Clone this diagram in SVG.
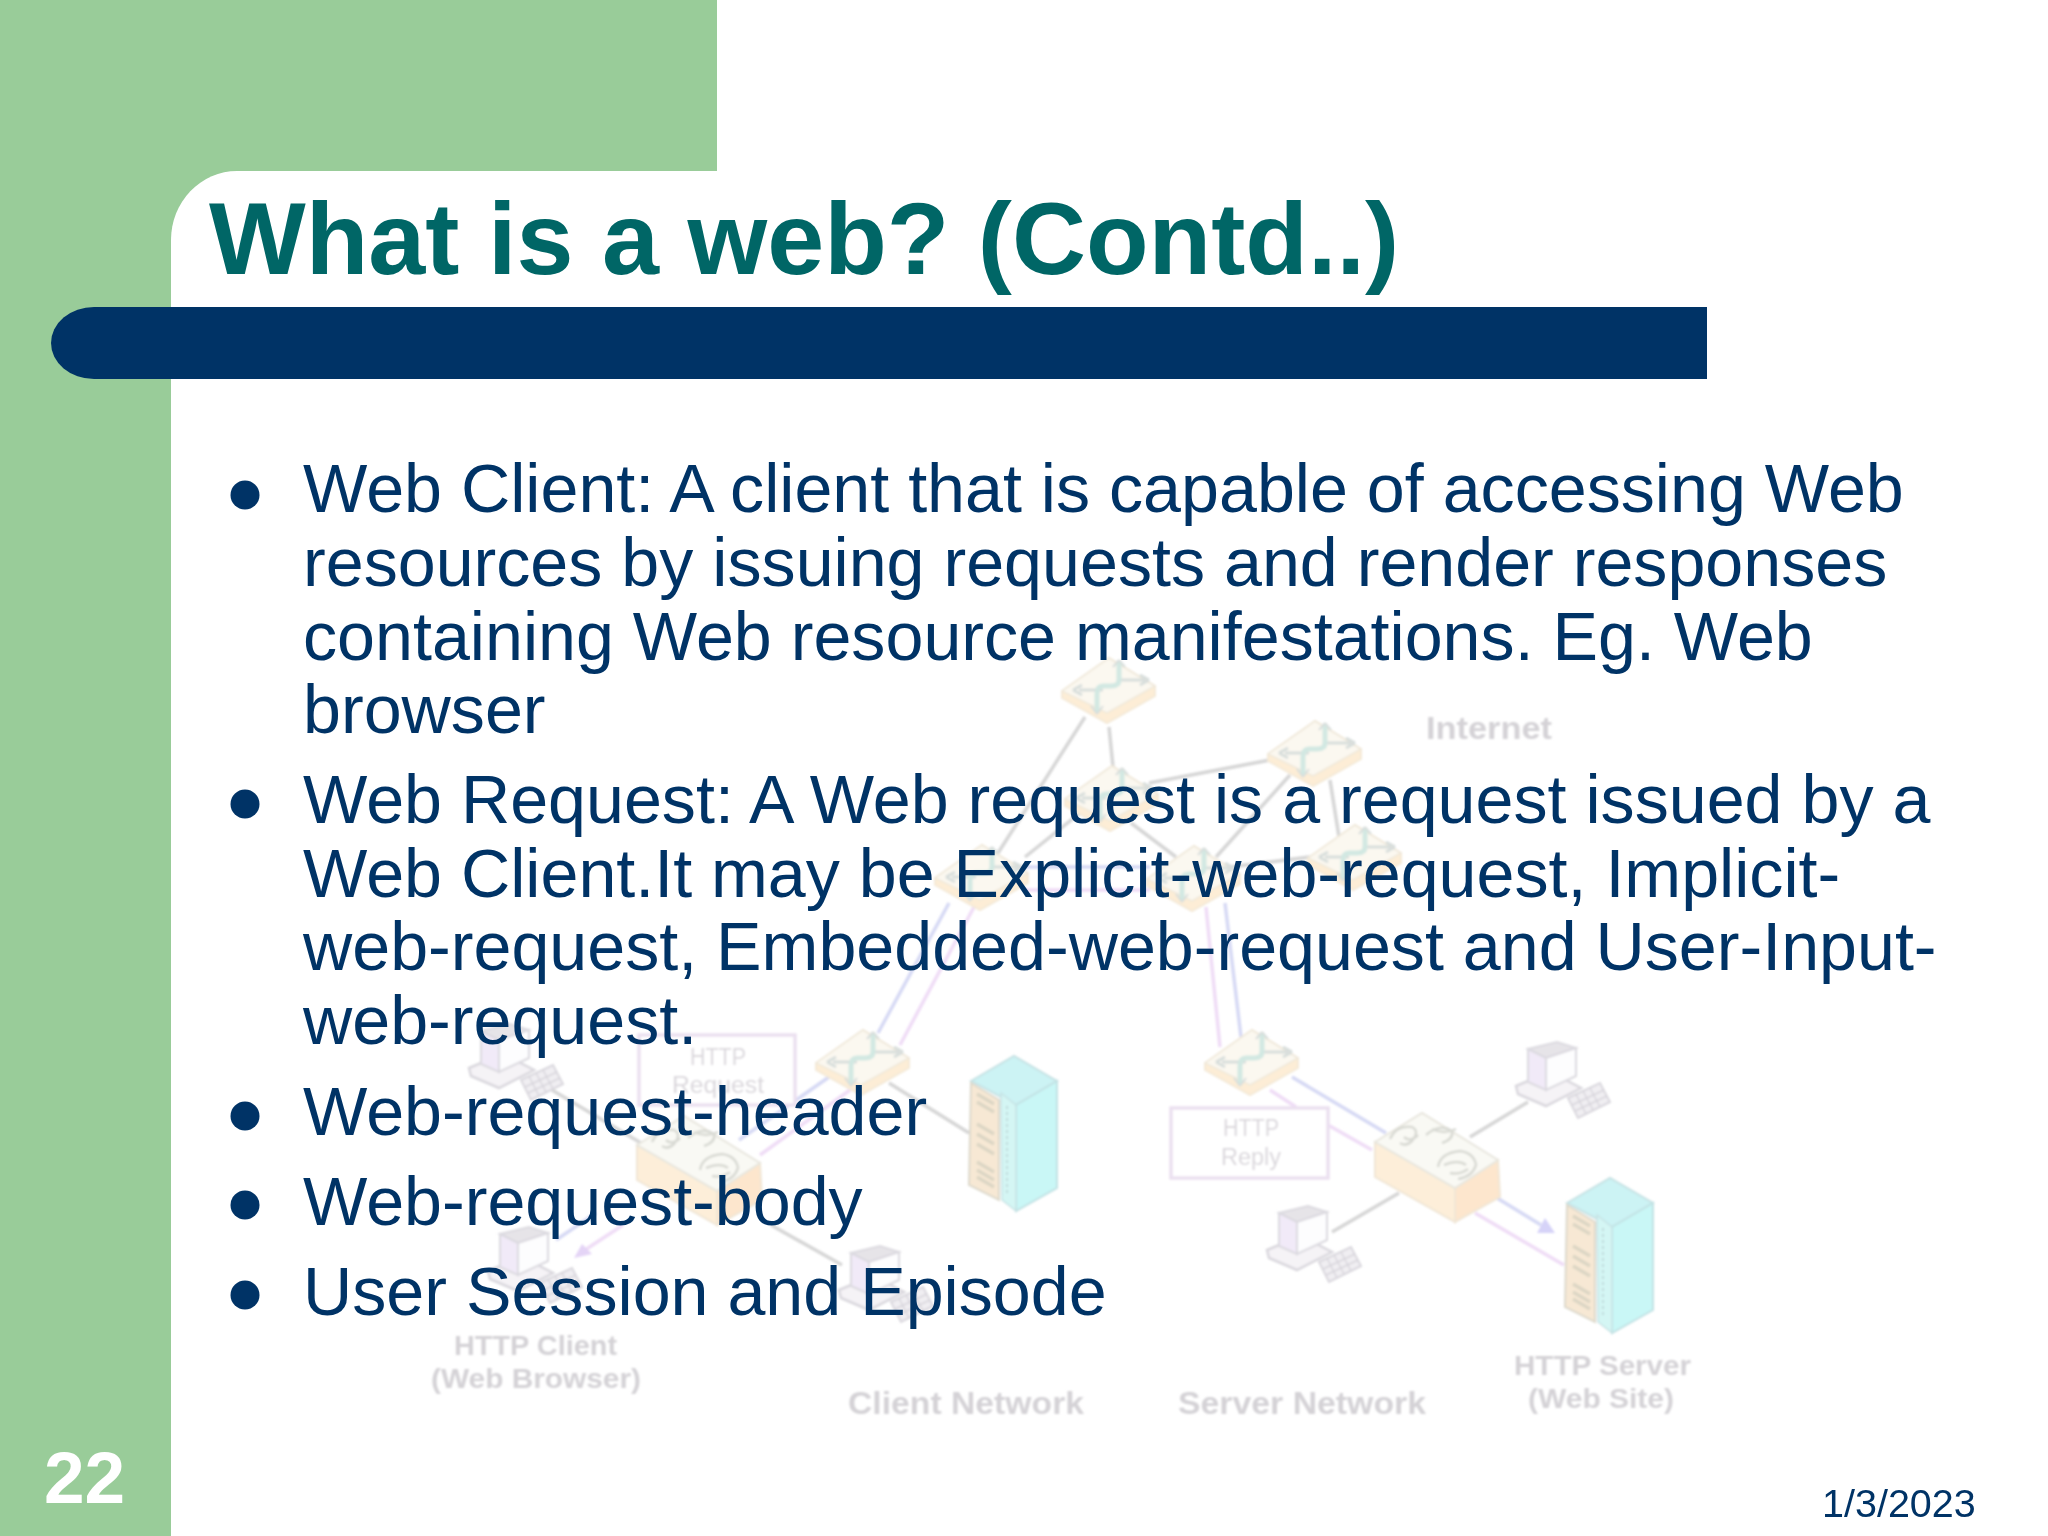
<svg xmlns="http://www.w3.org/2000/svg" xmlns:xlink="http://www.w3.org/1999/xlink" width="2048" height="1536" viewBox="0 0 2048 1536">
<style>
text{font-family:"Liberation Sans",Arial,sans-serif}
.body{font-size:68.200px;fill:#003366}
.lbl{font-weight:bold;fill:#d4d2d6}
.sm{font-size:23px;fill:#dad7dc}
.g{stroke:#d6d6d6;stroke-width:3.500;fill:none}
.b{stroke:#d6d9f4;stroke-width:3.500;fill:none}
.p{stroke:#efdcf6;stroke-width:3.500;fill:none}
.box{fill:#fff;stroke:#ebe0f0;stroke-width:3.500}
</style>
<defs>
<filter id="soft" x="-5%" y="-5%" width="110%" height="110%"><feGaussianBlur stdDeviation="0.800"/></filter>
<g id="router">
<path d="M-47,1 L0,-32 L46,-4 L46,6 L-2,33 L-47,8Z" fill="#fdedd6" stroke="#f4ead8" stroke-width="2"/>
<path d="M-47,1 L0,-32 L46,-4 L-2,23Z" fill="#fbf8f0" stroke="#efe8da" stroke-width="1.500"/>
<path d="M-6,0 H-30 M-36,0 l9,-5 M-36,0 l9,5 M12,-10 H36 M40,-10 l-9,-5 M40,-10 l-9,5" fill="none" stroke="#d8dedc" stroke-width="3"/>
<path d="M10,-28 V-10 Q10,-4 2,-4 H-6 Q-12,-4 -12,4 V22" fill="none" stroke="#d2e8e2" stroke-width="5"/>
<path d="M-12,24 l-6,-8 M-12,24 l6,-8 M10,-30 l-6,7 M10,-30 l6,7" fill="none" stroke="#d8dedc" stroke-width="2"/>
</g>
<g id="switch">
<path d="M-49,-45 L31,1 V35 L-49,-10Z" fill="#fdeed9" stroke="#f0e6d6" stroke-width="2"/>
<path d="M31,1 L74,-27 L76,10 L31,35Z" fill="#fde6cd" stroke="#f0e6d6" stroke-width="2"/>
<path d="M-49,-45 L-2,-74 L74,-27 L31,1Z" fill="#f9f9f4" stroke="#e8e6de" stroke-width="2"/>
<path d="M-34,-48 q6,-14 22,-12 q8,4 0,14 q-6,6 -12,2 M-20,-50 q6,6 14,-2 M2,-52 q14,-12 26,-4 q2,8 -10,12 M8,-58 q12,6 24,0 M14,-20 q2,-14 22,-16 q14,2 16,14 q-4,12 -18,14 M20,-22 q14,-6 22,0 M26,-14 q10,2 18,-4" fill="none" stroke="#d9dad4" stroke-width="2.500"/>
</g>
<g id="server">
<path d="M-43,25 L0,0 L43,25 L2,49Z" fill="#ccf3f4" stroke="#c6e2e4" stroke-width="2"/>
<path d="M2,49 L43,25 V132 L2,155Z" fill="#c9f7f6" stroke="#c2e2e4" stroke-width="2"/>
<path d="M-13,37 L2,49 V155 L-12,144Z" fill="#d4f6f4" stroke="#c6e2e4" stroke-width="1.500"/>
<path d="M-43,27 L-15,44 V144 L-45,129Z" fill="#f7e8d4" stroke="#ddd9cc" stroke-width="2"/>
<path d="M-37,38 L-20,48 M-37,46 L-20,56 M-37,68 L-20,78 M-37,78 L-20,88 M-37,88 L-20,98 M-37,106 L-20,116 M-37,114 L-20,124 M-37,121 L-20,131" stroke="#dcd6c4" stroke-width="3.500" fill="none"/>
<path d="M-7,50 V140" stroke="#bfdcdc" stroke-width="2" stroke-dasharray="3 3" fill="none"/>
</g>
<g id="computer">
<path d="M-44,6 L-10,-8 L21,8 L-14,26 L-42,14Z" fill="#f5f3f6" stroke="#dad8de" stroke-width="2.500"/>
<path d="M-32,-31 L-3,-38 L16,-32 L-14,-22Z" fill="#e6e4e8" stroke="#dcdae0" stroke-width="2"/>
<path d="M-32,-31 L-14,-22 V10 L-32,2Z" fill="#f1eaf8" stroke="#dcdae0" stroke-width="2"/>
<path d="M-14,-22 L16,-32 V-4 L-14,10Z" fill="#fdfdfe" stroke="#dcdae0" stroke-width="2"/>
<path d="M8,18 L40,3 L50,22 L18,38Z" fill="#f0eef2" stroke="#dad8de" stroke-width="2"/>
<path d="M16,14 L26,34 M23,11 L33,30 M30,8 L40,27 M12,25 L44,10 M15,31 L47,16" stroke="#d8d6dc" stroke-width="1.500" fill="none"/>
</g>
</defs>

<g id="template">
<rect x="0" y="0" width="717" height="240" fill="#99cc99"/>
<rect x="0" y="0" width="171" height="1536" fill="#99cc99"/>
<path d="M171,245 V240 A66,69 0 0 1 237,171 H717 V245Z" fill="#fff"/>
<path d="M94,307 H1707 V379 H94 A43,36 0 0 1 94,307Z" fill="#003366"/>
</g>

<g id="diagram" filter="url(#soft)">
<g id="connectors">
<path class="g" d="M1085,717 L998,853 M1109,727 L1113,767 M1149,783 L1270,760 M1290,775 L1216,857 M1330,780 L1339,837 M1131,823 L1176,857 M1100,797 L1025,857 M1230,867 L1310,857"/>
<path class="g" d="M889,1083 L969,1133 M552,1090 L641,1143 M771,1225 L842,1265 M1470,1137 L1528,1102 M1399,1193 L1332,1232"/>
<path class="b" d="M1023,867 H1150 M949,903 L878,1033 M1225,903 L1241,1037 M1292,1077 L1386,1133 M739,1140 L829,1077 M596,1213 L556,1240 M1497,1198 L1541,1225"/>
<path class="p" d="M1023,890 H1150 M974,907 L900,1045 M1206,907 L1220,1047 M1270,1090 L1296,1107 M1328,1125 L1372,1150 M1475,1213 L1564,1265 M760,1155 L850,1090 M623,1225 L585,1250"/>
<path d="M1545,1218 L1555,1233 L1537,1233Z" fill="#d6d3f8"/>
<path d="M574,1258 L582,1244 L592,1254Z" fill="#e4d4f6"/>
</g>

<g id="r1"><use xlink:href="#router" href="#router" x="1109" y="690"/></g>
<g id="r2"><use xlink:href="#router" href="#router" x="1112" y="798"/></g>
<g id="r3"><use xlink:href="#router" href="#router" x="1315" y="753"/></g>
<g id="r4"><use xlink:href="#router" href="#router" x="1355" y="857"/></g>
<g id="r5"><use xlink:href="#router" href="#router" x="1194" y="878"/></g>
<g id="r6"><use xlink:href="#router" href="#router" x="982" y="877"/></g>
<g id="r7"><use xlink:href="#router" href="#router" x="863" y="1062"/></g>
<g id="r8"><use xlink:href="#router" href="#router" x="1252" y="1062"/></g>
<g id="switch-client"><use xlink:href="#switch" href="#switch" x="686" y="1190"/></g>
<g id="switch-server"><use xlink:href="#switch" href="#switch" x="1424" y="1187"/></g>
<g id="server-client"><use xlink:href="#server" href="#server" x="1014" y="1056"/></g>
<g id="server-web"><use xlink:href="#server" href="#server" x="1610" y="1178"/></g>
<g id="pc1"><use xlink:href="#computer" href="#computer" x="513" y="1062"/></g>
<g id="pc2"><use xlink:href="#computer" href="#computer" x="532" y="1265"/></g>
<g id="pc3"><use xlink:href="#computer" href="#computer" x="883" y="1284"/></g>
<g id="pc4"><use xlink:href="#computer" href="#computer" x="1560" y="1080"/></g>
<g id="pc5"><use xlink:href="#computer" href="#computer" x="1311" y="1244"/></g>

<g id="http-request"><rect class="box" x="639" y="1035" width="156" height="70"/>
<text class="sm" x="690" y="1065" textLength="56" lengthAdjust="spacingAndGlyphs">HTTP</text><text class="sm" x="672" y="1093" textLength="92" lengthAdjust="spacingAndGlyphs">Request</text></g>
<g id="http-reply"><rect class="box" x="1171" y="1108" width="157" height="70"/>
<text class="sm" x="1223" y="1136" textLength="56" lengthAdjust="spacingAndGlyphs">HTTP</text><text class="sm" x="1221" y="1165" textLength="60" lengthAdjust="spacingAndGlyphs">Reply</text></g>

<g id="labels">
<text class="lbl" font-size="31" x="1426" y="739" textLength="126" lengthAdjust="spacingAndGlyphs">Internet</text>
<text class="lbl" font-size="27" x="454" y="1355" textLength="163" lengthAdjust="spacingAndGlyphs">HTTP Client</text>
<text class="lbl" font-size="27" x="431" y="1388" textLength="210" lengthAdjust="spacingAndGlyphs">(Web Browser)</text>
<text class="lbl" font-size="31" x="848" y="1414" textLength="236" lengthAdjust="spacingAndGlyphs">Client Network</text>
<text class="lbl" font-size="31" x="1178" y="1414" textLength="248" lengthAdjust="spacingAndGlyphs">Server Network</text>
<text class="lbl" font-size="27" x="1514" y="1375" textLength="177" lengthAdjust="spacingAndGlyphs">HTTP Server</text>
<text class="lbl" font-size="27" x="1528" y="1408" textLength="146" lengthAdjust="spacingAndGlyphs">(Web Site)</text>
</g>
</g>

<g id="title"><text x="209" y="274" font-size="102.500" font-weight="bold" fill="#006666">What is a web? (Contd..)</text></g>
<g id="bullets" fill="#003366">
<circle cx="245" cy="495" r="14.500"/><circle cx="245" cy="804" r="14.500"/><circle cx="245" cy="1116" r="14.500"/><circle cx="245" cy="1205" r="14.500"/><circle cx="245" cy="1295" r="14.500"/>
</g>
<g id="content">
<text class="body" x="303" y="512">Web Client: A client that is capable of accessing Web</text>
<text class="body" x="303" y="586">resources by issuing requests and render responses</text>
<text class="body" x="303" y="660">containing Web resource manifestations. Eg. Web</text>
<text class="body" x="303" y="733">browser</text>
<text class="body" x="303" y="823">Web Request: A Web request is a request issued by a</text>
<text class="body" x="303" y="897">Web Client.It may be Explicit-web-request, Implicit-</text>
<text class="body" x="303" y="970">web-request, Embedded-web-request and User-Input-</text>
<text class="body" x="303" y="1044">web-request.</text>
<text class="body" x="303" y="1135">Web-request-header</text>
<text class="body" x="303" y="1225">Web-request-body</text>
<text class="body" x="303" y="1315">User Session and Episode</text>
</g>
<g id="footer">
<text x="44" y="1503" font-size="73" font-weight="bold" fill="#fff">22</text>
<text x="1822" y="1517" font-size="39.500" fill="#003366">1/3/2023</text>
</g>
</svg>
